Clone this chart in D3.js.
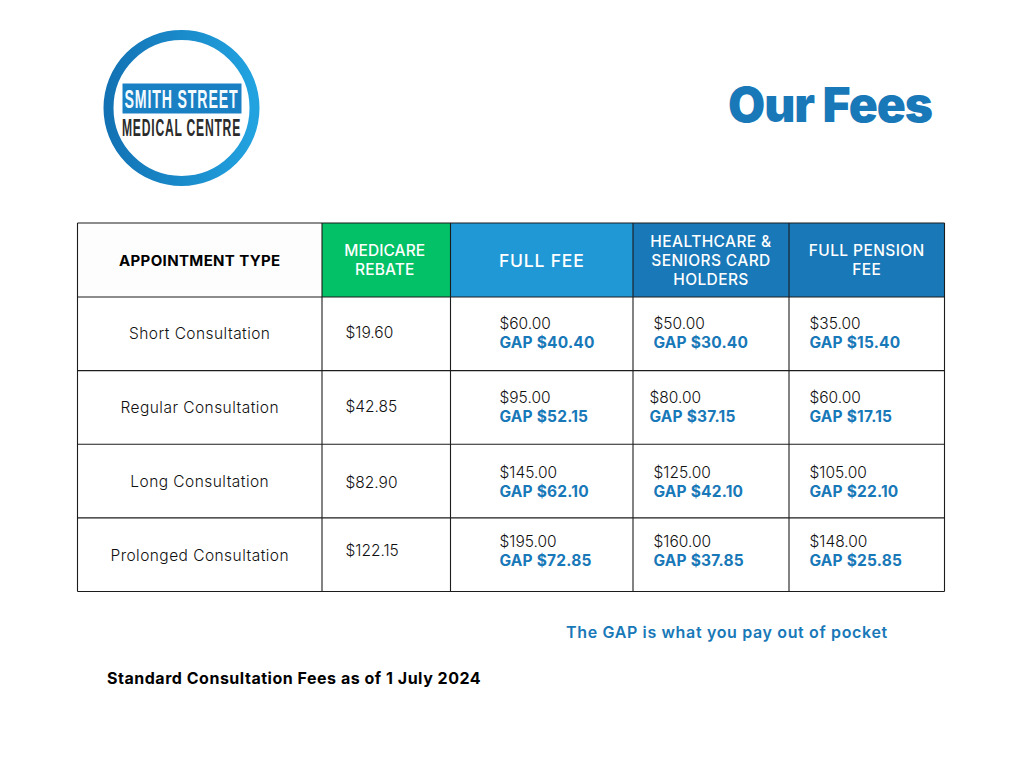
<!DOCTYPE html>
<html>
<head>
<meta charset="utf-8">
<title>Our Fees</title>
<script src="https://d3js.org/d3.v7.min.js"></script>
<style>
  html, body { margin: 0; background: #ffffff; }
  svg { display: block; }
  text { font-family: "Inter", "Lato", sans-serif; }
</style>
</head>
<body>
<svg id="chart" width="1024" height="768"></svg>
<script>
// Table content
var appointmentTypes = ["Short Consultation", "Regular Consultation", "Long Consultation", "Prolonged Consultation"];
var columns = ["type", "rebate", "full", "card", "pension"];
var headerLabels = [
  ["APPOINTMENT TYPE"],
  ["MEDICARE", "REBATE"],
  ["FULL FEE"],
  ["HEALTHCARE &", "SENIORS CARD", "HOLDERS"],
  ["FULL PENSION", "FEE"]
];
var medicareRebate = [19.60, 42.85, 82.90, 122.15];
var fullFee = [60, 95, 145, 195];
var fullGap = [40.40, 52.15, 62.10, 72.85];
var cardFee = [50, 80, 125, 160];
var cardGap = [30.40, 37.15, 42.10, 37.85];
var pensionFee = [35, 60, 105, 148];
var pensionGap = [15.40, 17.15, 22.10, 25.85];

var BLUE = "#1878b8", LIGHT_BLUE = "#2098d6", GREEN = "#02c167", INK = "#111111";

var svg = d3.select("#chart");
var money = d3.format("$.2f");

// Column edges and rows
var colEdges = [77.5, 322, 450.5, 633, 789, 944.5];
var colLeft = d3.scaleOrdinal().domain(columns).range(colEdges.slice(0, 5));
var colRight = d3.scaleOrdinal().domain(columns).range(colEdges.slice(1));
var colMid = c => (colLeft(c) + colRight(c)) / 2;
var headerTop = 223, headerBottom = 297;
var rowY = d3.scaleBand().domain(appointmentTypes).range([headerBottom, 591.5]);

// Logo
var defs = svg.append("defs");
var grad = defs.append("linearGradient").attr("id", "ringGrad");
grad.append("stop").attr("offset", "0%").attr("stop-color", "#1272b4");
grad.append("stop").attr("offset", "100%").attr("stop-color", "#22a3e0");

svg.append("circle")
  .attr("cx", 181.5).attr("cy", 108).attr("r", 73)
  .attr("fill", "#fff").attr("stroke", "url(#ringGrad)").attr("stroke-width", 10);
svg.append("rect")
  .attr("x", 122.5).attr("y", 83.5).attr("width", 119).attr("height", 30)
  .attr("fill", "#1a80c4");
svg.append("text")
  .attr("x", 124.5).attr("y", 108)
  .attr("textLength", 114).attr("lengthAdjust", "spacingAndGlyphs")
  .style("font-family", "'Liberation Sans Narrow', 'Liberation Sans', sans-serif")
  .style("font-weight", 700).style("font-size", "25px")
  .style("letter-spacing", "1.5px")
  .attr("fill", "#f4fbff").text("SMITH STREET");
svg.append("text")
  .attr("x", 122).attr("y", 135.5)
  .attr("textLength", 119).attr("lengthAdjust", "spacingAndGlyphs")
  .style("font-family", "'Liberation Sans Narrow', 'Liberation Sans', sans-serif")
  .style("font-weight", 700).style("font-size", "23.5px")
  .style("letter-spacing", "1.5px")
  .attr("fill", "#2b2b2b").text("MEDICAL CENTRE");

// Title
svg.append("text")
  .attr("x", 728).attr("y", 122)
  .attr("textLength", 205).attr("lengthAdjust", "spacing")
  .style("font-weight", 900).style("font-size", "48px")
  .attr("fill", BLUE).text("Our Fees");

// Header cells
var headerFill = ["#fdfdfd", GREEN, LIGHT_BLUE, BLUE, BLUE];
svg.selectAll("rect.head").data(columns).enter().append("rect")
  .attr("class", "head")
  .attr("x", d => colLeft(d))
  .attr("y", headerTop)
  .attr("width", d => colRight(d) - colLeft(d))
  .attr("height", headerBottom - headerTop)
  .attr("fill", (d, i) => headerFill[i]);

// Grid lines
var grid = svg.append("g").attr("stroke", "#1c1c1c").attr("stroke-width", 1.1);
colEdges.forEach(x => {
  grid.append("line").attr("x1", x).attr("x2", x).attr("y1", headerTop).attr("y2", 591.5);
});
[headerTop, headerBottom].concat(appointmentTypes.map(t => rowY(t) + rowY.bandwidth())).forEach(y => {
  grid.append("line").attr("x1", colEdges[0]).attr("x2", colEdges[5]).attr("y1", y).attr("y2", y);
});

// Header labels
var headerSize = [15, 15.5, 17.5, 15.5, 15.5];
var headerCentre = [260.5, 259.5, 261, 260, 259.5];
var headerSpacing = [0.35, 0.1, 0.8, 0.4, 0.4];
var headerShift = [0, -1.5, 0, 0, 0];
columns.forEach((c, i) => {
  var lines = headerLabels[i];
  var lineGap = 19;
  lines.forEach((line, j) => {
    svg.append("text")
      .attr("x", colMid(c) + headerShift[i])
      .attr("y", headerCentre[i] + (j - (lines.length - 1) / 2) * lineGap + 5.5)
      .attr("text-anchor", "middle")
      .style("font-size", headerSize[i] + "px")
      .style("font-weight", i === 0 ? 700 : 500)
      .style("letter-spacing", headerSpacing[i] + "px")
      .attr("fill", i === 0 ? "#000" : "#fff")
      .text(line);
  });
});

// Body rows
var feeOffsetY = [-0.5, -0.5, 0.5, -3.5];
var rebateOffsetY = [-1, -1, 1, -4.5];
var labelOffsetY = [0, 0, 0, 0.5];
appointmentTypes.forEach((t, r) => {
  var mid = rowY(t) + rowY.bandwidth() / 2;

  svg.append("text")
    .attr("x", colMid("type")).attr("y", mid + 5.5 + labelOffsetY[r])
    .attr("text-anchor", "middle")
    .style("font-size", "15.5px").style("font-weight", 300)
    .style("letter-spacing", "0.45px")
    .attr("fill", INK).text(t);

  svg.append("text")
    .attr("x", 345.5).attr("y", mid + 5.5 + rebateOffsetY[r])
    .style("font-size", "15.5px").style("font-weight", 300)
    .attr("fill", INK).text(money(medicareRebate[r]));

  var groups = [
    { x: 499.5, fee: fullFee, gap: fullGap },
    { x: r === 1 ? 649.5 : 653.5, fee: cardFee, gap: cardGap },
    { x: 809.5, fee: pensionFee, gap: pensionGap }
  ];
  groups.forEach(g => {
    svg.append("text")
      .attr("x", g.x).attr("y", mid - 4 + feeOffsetY[r])
      .style("font-size", "15.5px").style("font-weight", 300)
      .attr("fill", INK).text(money(g.fee[r]));
    svg.append("text")
      .attr("x", g.x).attr("y", mid + 15 + feeOffsetY[r])
      .style("font-size", "15.5px").style("font-weight", 700)
      .style("letter-spacing", "0.2px")
      .attr("fill", BLUE).text("GAP " + money(g.gap[r]));
  });
});

// Footnotes
svg.append("text")
  .attr("x", 566).attr("y", 637.5)
  .style("font-size", "16px").style("font-weight", 600)
  .style("letter-spacing", "0.65px")
  .attr("fill", BLUE).text("The GAP is what you pay out of pocket");
svg.append("text")
  .attr("x", 107).attr("y", 683.5)
  .style("font-size", "16px").style("font-weight", 700)
  .style("letter-spacing", "0.52px")
  .attr("fill", "#000").text("Standard Consultation Fees as of 1 July 2024");
</script>
</body>
</html>
